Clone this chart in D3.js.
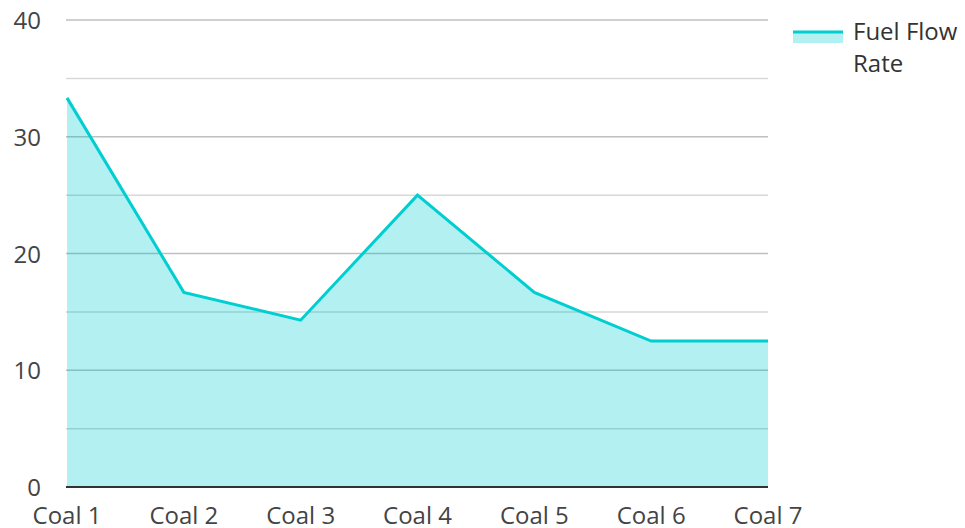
<!DOCTYPE html>
<html><head><meta charset="utf-8">
<script src="https://cdn.jsdelivr.net/npm/d3@7"></script>
<style>body{margin:0;background:#fff}svg{display:block}text{font-family:"Open Sans",sans-serif}</style>
</head><body><svg id="c" width="965" height="528"></svg>
<script>
const categories = ["Coal 1","Coal 2","Coal 3","Coal 4","Coal 5","Coal 6","Coal 7"];
const values = [33.33, 16.67, 14.29, 25, 16.67, 12.5, 12.5];
const majorTicks = [0,10,20,30,40];
const minorTicks = [5,15,25,35];
const seriesName = ["Fuel Flow","Rate"];

const svg = d3.select("#c");
const x = d3.scalePoint().domain(categories).range([67, 768]);
const y = d3.scaleLinear().domain([0,40]).range([487, 20]);
const L = 66, R = 768;

svg.append("g").selectAll("line").data(minorTicks).join("line")
  .attr("x1",L).attr("x2",R).attr("y1",d=>y(d)).attr("y2",d=>y(d))
  .attr("stroke","#e6e6e6").attr("stroke-width",1.5);
svg.append("g").selectAll("line").data(majorTicks.filter(d=>d>0)).join("line")
  .attr("x1",L).attr("x2",R).attr("y1",d=>y(d)).attr("y2",d=>y(d))
  .attr("stroke","#cccccc").attr("stroke-width",1.5);

const area = d3.area().x((d,i)=>x(categories[i])).y0(y(0)).y1(d=>y(d));
const line = d3.line().x((d,i)=>x(categories[i])).y(d=>y(d));
svg.append("path").datum(values).attr("d",area).attr("fill","#00CED1").attr("fill-opacity",0.3);
svg.append("g").selectAll("line").data(minorTicks.concat(majorTicks.filter(d=>d>0))).join("line")
  .attr("x1",L).attr("x2",R).attr("y1",d=>y(d)).attr("y2",d=>y(d))
  .attr("stroke","#000").attr("stroke-opacity",0.06).attr("stroke-width",1.5);
svg.append("path").datum(values).attr("d",line).attr("fill","none")
  .attr("stroke","#00CED1").attr("stroke-width",3).attr("stroke-linejoin","miter");

svg.append("line").attr("x1",L).attr("x2",R).attr("y1",y(0)).attr("y2",y(0))
  .attr("stroke","#333").attr("stroke-width",2);

svg.append("g").selectAll("text").data(majorTicks).join("text")
  .attr("x",41).attr("y",d=>y(d)+9).attr("text-anchor","end")
  .attr("font-size",24).attr("fill","#444").text(d=>d);
svg.append("g").selectAll("text").data(categories).join("text")
  .attr("x",d=>x(d)).attr("y",524).attr("text-anchor","middle")
  .attr("font-size",24).attr("fill","#444").text(d=>d);

const lg = svg.append("g");
lg.append("rect").attr("x",793).attr("y",31).attr("width",50).attr("height",12)
  .attr("fill","#00CED1").attr("fill-opacity",0.3);
lg.append("line").attr("x1",793).attr("x2",843).attr("y1",32).attr("y2",32)
  .attr("stroke","#00CED1").attr("stroke-width",3);
lg.selectAll("text").data(seriesName).join("text")
  .attr("x",853).attr("y",(d,i)=>40+i*32).attr("font-size",24).attr("fill","#333").text(d=>d);
</script></body></html>
